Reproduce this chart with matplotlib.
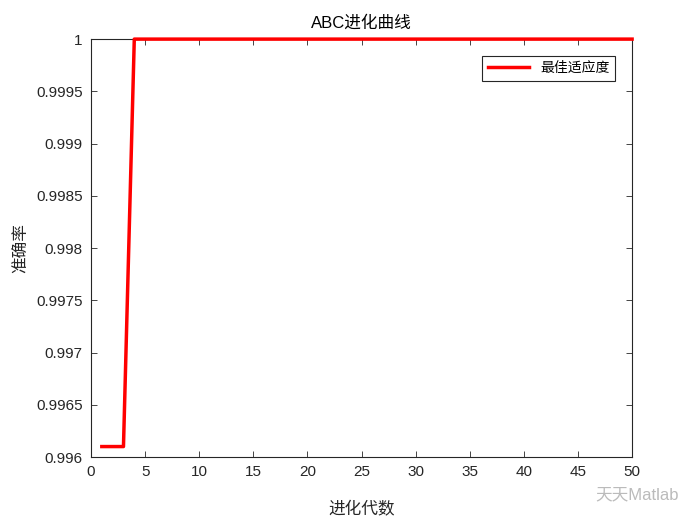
import matplotlib.pyplot as plt

plt.rcParams['font.family'] = ['Liberation Sans', 'Noto Sans CJK SC', 'DejaVu Sans']

# data
generations = list(range(1, 51))
best_fitness = [0.9961, 0.9961, 0.9961] + [1.0] * 47

x_ticks = [0, 5, 10, 15, 20, 25, 30, 35, 40, 45, 50]
y_ticks = [0.996, 0.9965, 0.997, 0.9975, 0.998, 0.9985, 0.999, 0.9995, 1]
y_tick_labels = ['0.996', '0.9965', '0.997', '0.9975', '0.998', '0.9985', '0.999', '0.9995', '1']


def main():
    fig = plt.figure(figsize=(7, 5.25), dpi=100)
    ax = fig.add_axes([0.130, 0.1295, 0.773, 0.796])

    ax.plot(generations, best_fitness, color='#ff0000', linewidth=2.5,
            label='最佳适应度', clip_on=False, zorder=3)

    ax.set_xlim(0, 50)
    ax.set_ylim(0.996, 1.0)
    ax.set_xticks(x_ticks)
    ax.set_yticks(y_ticks)
    ax.set_yticklabels(y_tick_labels)
    ax.tick_params(direction='in', top=True, right=True, labelsize=11,
                   colors='#262626', length=4, width=0.6, pad=6)
    for s in ax.spines.values():
        s.set_color('#262626')
        s.set_linewidth(0.8)

    ax.set_title('ABC进化曲线', fontsize=12, color='#000000', pad=8)
    ax.set_xlabel('进化代数', fontsize=12, color='#262626', labelpad=16)
    ax.set_ylabel('准确率', fontsize=12, color='#262626', labelpad=5)

    leg = ax.legend(loc='upper right', fontsize=10, fancybox=False,
                    edgecolor='#262626', framealpha=1, borderaxespad=1.2,
                    handlelength=3)
    leg.get_frame().set_linewidth(0.8)

    # watermark
    fig.text(0.97, 0.058, '天天Matlab', ha='right', va='center',
             fontsize=12, color='#bbbbbb')

    fig.savefig('out.png', dpi=100)


if __name__ == "__main__":
    main()
